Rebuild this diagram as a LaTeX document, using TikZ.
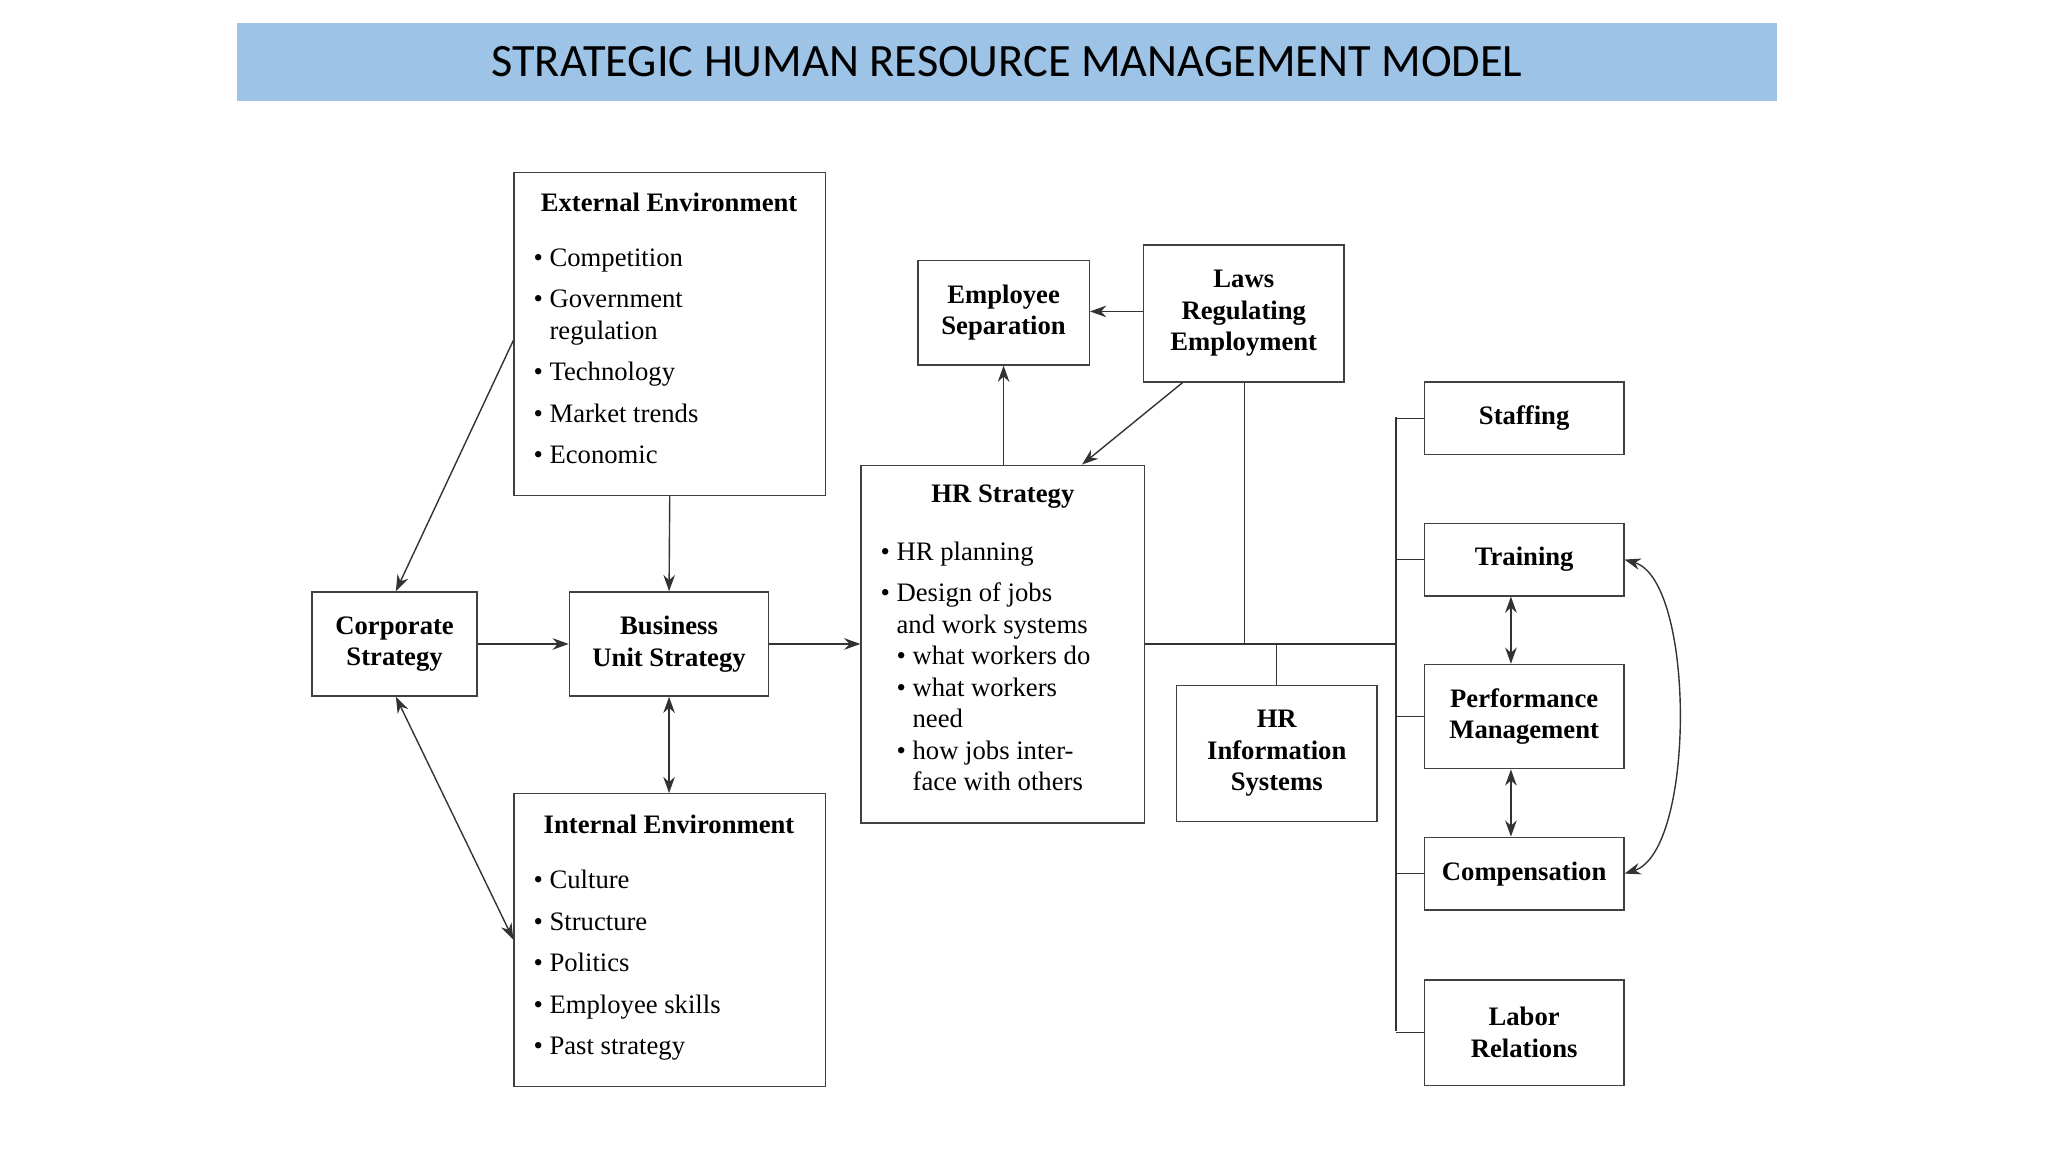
\documentclass[tikz,border=0pt]{standalone}
\usepackage{fontspec}
\setmainfont{Liberation Serif}
\newfontfamily\titlefont{Carlito}
\usetikzlibrary{arrows.meta}
\newcommand\bul{\textbullet\ }
\newcommand\hang{\phantom{\textbullet\ }}
\begin{document}
\begin{tikzpicture}[x=0.02cm,y=-0.02cm,
  box/.style={draw=black!75,line width=0.6pt,inner sep=0,anchor=north west},
  head/.style={font=\fontsize{11.5}{13.6}\selectfont\bfseries,align=center,inner sep=0},
  lst/.style={font=\fontsize{11.5}{13.6}\selectfont,align=left,inner sep=0,anchor=north west},
  ln/.style={draw=black!80,line width=0.6pt},
  ar/.style={ln,-{Stealth[length=7pt,width=5pt]}},
  dar/.style={ln,{Stealth[length=7pt,width=5pt]}-{Stealth[length=7pt,width=5pt]}}]
\useasboundingbox (0,0) rectangle (1552,873);
\fill[white] (0,0) rectangle (1552,873);
\node[box,draw=none,fill={rgb,255:red,157;green,195;blue,230},minimum width=1167*0.02cm,minimum height=59*0.02cm] (title) at (179,17) {};
\node[font=\titlefont\fontsize{20}{24}\selectfont] at (title.center) {STRATEGIC HUMAN RESOURCE MANAGEMENT MODEL};
% boxes
\node[box,minimum width=236*0.02cm,minimum height=245*0.02cm] (ext) at (389,130) {};
\node[box,minimum width=125*0.02cm,minimum height=79*0.02cm] (corp) at (236,448) {};
\node[box,minimum width=151*0.02cm,minimum height=79*0.02cm] (bus) at (431,448) {};
\node[box,minimum width=236*0.02cm,minimum height=222*0.02cm] (int) at (389,601) {};
\node[box,minimum width=215*0.02cm,minimum height=271*0.02cm] (hrs) at (652,352) {};
\node[box,minimum width=130*0.02cm,minimum height=79*0.02cm] (sep) at (695,197) {};
\node[box,minimum width=152*0.02cm,minimum height=104*0.02cm] (laws) at (866,185) {};
\node[box,minimum width=152*0.02cm,minimum height=103*0.02cm] (hris) at (891,519) {};
\node[box,minimum width=151*0.02cm,minimum height=55*0.02cm] (staff) at (1079,289) {};
\node[box,minimum width=151*0.02cm,minimum height=55*0.02cm] (train) at (1079,396) {};
\node[box,minimum width=151*0.02cm,minimum height=79*0.02cm] (perf) at (1079,503) {};
\node[box,minimum width=151*0.02cm,minimum height=55*0.02cm] (comp) at (1079,634) {};
\node[box,minimum width=151*0.02cm,minimum height=80*0.02cm] (labor) at (1079,742) {};
% texts
\node[head] at (507,153) {External Environment};
\node[lst] at (404,188) {\bul Competition\\[4.3pt]\bul Government\\\hang regulation\\[4.3pt]\bul Technology\\[4.3pt]\bul Market trends\\[4.3pt]\bul Economic};
\node[head] at (corp.center) {Corporate\\Strategy};
\node[head] at (bus.center) {Business\\Unit Strategy};
\node[head] at (507,625) {Internal Environment};
\node[lst] at (404,659) {\bul Culture\\[4.3pt]\bul Structure\\[4.3pt]\bul Politics\\[4.3pt]\bul Employee skills\\[4.3pt]\bul Past strategy};
\node[head] at (760,376) {HR Strategy};
\node[lst] at (667,410) {\bul HR planning\\[4.3pt]\bul Design of jobs\\\hang and work systems\\
\hang\bul what workers do\\\hang\bul what workers\\\hang\hang need\\\hang\bul how jobs inter-\\\hang\hang face with others};
\node[head] at (sep.center) {Employee\\Separation};
\node[head] at (laws.center) {Laws\\Regulating\\Employment};
\node[head] at (hris.center) {HR\\Information\\Systems};
\node[head] at (staff.center) {Staffing};
\node[head] at (train.center) {Training};
\node[head] at (perf.center) {Performance\\Management};
\node[head] at (comp.center) {Compensation};
\node[head] at (labor.center) {Labor\\Relations};
% connectors
\coordinate (j) at (943,488);
\coordinate (k) at (1058,488);
\draw[ar] (ext.west |- 0,258) -- (corp.north -| 300,0);
\draw[ar] (ext.south) -- (bus.north);
\draw[ar] (corp.east |- 0,488) -- (bus.west |- 0,488);
\draw[ar] (bus.east |- 0,488) -- (hrs.west |- 0,488);
\draw[dar] (bus.south) -- (int.north -| bus.south);
\draw[dar] (corp.south -| 300,0) -- (int.west |- 0,712);
\draw[ar] (hrs.north -| sep.south) -- (sep.south);
\draw[ar] (laws.west |- 0,236) -- (sep.east |- 0,236);
\draw[ar] (laws.south -| 896,0) -- (hrs.north -| 820,0);
\draw[ln] (laws.south -| j) -- (j);
\draw[ln] (hrs.east |- k) -- (k);
\draw[ln] (hris.north) -- (hris.north |- k);
\draw[ln] (1058,316) coordinate (t) -- (1058,781);
\foreach \n in {staff,train,perf,comp,labor} \draw[ln] (\n.west) -- (\n.west -| t);
\draw[dar] (train.south -| 1145,0) -- (perf.north -| 1145,0);
\draw[dar] (perf.south -| 1145,0) -- (comp.north -| 1145,0);
\draw[dar] (train.east) .. controls (1285,440) and (1285,645) .. (comp.east);
\end{tikzpicture}
\end{document}
